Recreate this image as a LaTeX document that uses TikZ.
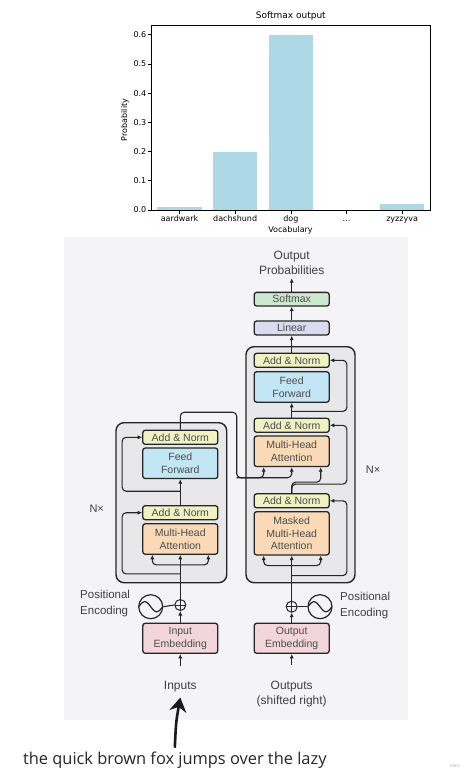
\documentclass[tikz,border=0pt]{standalone}
\usepackage{fontspec}
\setmainfont{Liberation Sans}
\newfontfamily\plotfont{DejaVu Sans}
\newfontfamily\notefont{Open Sans}
\usetikzlibrary{arrows.meta}

\definecolor{anCol}{RGB}{240,242,196}
\definecolor{ffCol}{RGB}{194,230,244}
\definecolor{mhaCol}{RGB}{250,218,182}
\definecolor{smCol}{RGB}{205,232,206}
\definecolor{linCol}{RGB}{218,218,240}
\definecolor{embCol}{RGB}{243,214,220}
\definecolor{layerCol}{RGB}{232,232,235}
\definecolor{panelCol}{RGB}{244,244,246}
\definecolor{barCol}{RGB}{173,216,230}

\newcommand{\vocdots}{...}

\tikzset{
  block/.style={draw=black!85, line width=1.3pt, rounded corners=2.5pt, minimum width=75pt,
    inner sep=0pt, align=center, text=black!70, font=\fontsize{10.5}{12.5}\selectfont},
  addnorm/.style={block, fill=anCol, minimum height=14pt},
  feedfwd/.style={block, fill=ffCol, minimum height=30.5pt},
  attn/.style={block, fill=mhaCol, minimum height=30.5pt},
  embed/.style={block, fill=embCol, minimum height=30pt},
  layer/.style={draw=black!85, line width=1.4pt, rounded corners=8pt, fill=layerCol},
  flow/.style={-{Latex[length=4.5pt,width=4.2pt]}, line width=1.1pt, draw=black!85, rounded corners=4pt},
  figtext/.style={text=black!75, align=center, inner sep=0pt, font=\fontsize{12}{15.5}\selectfont},
  plus/.style={circle, draw=black!85, line width=1pt, minimum size=11pt, inner sep=0pt,
    path picture={\draw[line width=0.9pt] (path picture bounding box.north) -- (path picture bounding box.south)
      (path picture bounding box.west) -- (path picture bounding box.east);}},
  wave/.style={circle, draw=black!85, line width=1.2pt, minimum size=24pt, inner sep=0pt,
    path picture={\draw[line width=1.2pt, shift={(path picture bounding box.center)}]
      plot[domain=-12:12, samples=40] (\x, {5*sin(\x*15)});}},
}

\begin{document}
\begin{tikzpicture}[x=1pt, y=-1pt]
\useasboundingbox (0,0) rectangle (474,780);

% Softmax bar chart
\begin{scope}[font=\plotfont\fontsize{8}{9}\selectfont]
  \foreach \i/\p/\word in {0/0.01/aardwark, 1/0.2/dachshund, 2/0.6/dog, 3/0/\vocdots, 4/0.02/zyzzyva} {
    \pgfmathsetmacro{\xc}{179.5+55.66*\i}
    \fill[barCol] (\xc-22.3,210) rectangle (\xc+22.3,{210-292.2*\p});
    \draw[line width=0.6pt] (\xc,210) -- (\xc,213.5);
    \node[anchor=north, inner sep=0pt, text height=6pt, text depth=1.6pt] at (\xc,215.5) {\word};
  }
  \foreach \v in {0,...,6} {
    \draw[line width=0.6pt] (148.2,{210-29.22*\v}) -- (151.7,{210-29.22*\v});
    \node[anchor=east, inner sep=0pt] at (146.5,{210-29.22*\v}) {0.\v};
  }
  \draw[line width=0.6pt] (151.7,25) rectangle (430,210);
  \node[font=\plotfont\fontsize{9}{10}\selectfont] (title) at (290.8,16.5) {Softmax output};
  \node[rotate=90] (ylab) at (125,120) {Probability};
  \node (xlab) at (290.5,230) {Vocabulary};
\end{scope}

% Transformer panel
\fill[panelCol] (64,237) rectangle (408,720);
\draw[layer] (116,422.7) rectangle (226.7,582.7);
\draw[layer] (246,346.7) rectangle (355,582.7);

% encoder
\node[addnorm] (encAN2) at (180.3,437.3) {Add \& Norm};
\node[feedfwd] (encFF) at (180.3,463.3) {Feed\\Forward};
\node[addnorm] (encAN1) at (180.3,512.7) {Add \& Norm};
\node[attn] (encMHA) at (180.3,539) {Multi-Head\\Attention};
\node[plus] (encPlus) at (180.3,605) {};
\node[wave] (encWave) at (150.7,606.7) {};
\node[embed] (inEmb) at (180.3,638.3) {Input\\Embedding};
\node[figtext] (inputs) at (180.3,687) {Inputs};
\node[figtext, align=left, anchor=west, font=\fontsize{11.5}{16}\selectfont] (encPE) at (80,604) {Positional\\Encoding};
\node[figtext, font=\fontsize{11}{12}\selectfont] (encN) at (96.7,508.3) {N×};

% decoder
\node[figtext] (outProb) at (291.7,263) {Output\\Probabilities};
\node[block, fill=smCol, minimum height=13.7pt] (softmax) at (291.7,299.2) {Softmax};
\node[block, fill=linCol, minimum height=14pt] (linear) at (291.7,328) {Linear};
\node[addnorm] (decAN3) at (291.7,360.3) {Add \& Norm};
\node[feedfwd] (decFF) at (291.7,387) {Feed\\Forward};
\node[addnorm] (decAN2) at (291.7,425.3) {Add \& Norm};
\node[attn] (decMHA2) at (291.7,451.3) {Multi-Head\\Attention};
\node[addnorm] (decAN1) at (291.7,500.8) {Add \& Norm};
\node[attn, minimum height=43.3pt] (decMHA1) at (291.7,533.3) {Masked\\Multi-Head\\Attention};
\node[plus] (decPlus) at (291.7,606.7) {};
\node[wave] (decWave) at (320,606.7) {};
\node[embed] (outEmb) at (291.7,638.3) {Output\\Embedding};
\node[figtext, anchor=north] (outputs) at (291.7,680.5) {Outputs\\(shifted right)};
\node[figtext, align=left, anchor=west, font=\fontsize{11.5}{16}\selectfont] (decPE) at (340,606) {Positional\\Encoding};
\node[figtext, font=\fontsize{11}{12}\selectfont] (decN) at (373,470) {N×};

% encoder connectors
\draw[flow] ([yshift=15.5pt]inputs.north) -- (inEmb.south);
\draw[flow] (inEmb.north) -- (encPlus.south);
\draw[line width=1.1pt, black!85] (encWave.east) -- (encPlus.west);
\draw[flow] (encPlus.north) -- (encMHA.south);
\draw[flow] ([yshift=-10pt]encMHA.south) -| ([xshift=-28pt]encMHA.south);
\draw[flow] ([yshift=-10pt]encMHA.south) -| ([xshift=28pt]encMHA.south);
\draw[flow] ([yshift=-19pt]encMHA.south) -| ([xshift=-20pt]encAN1.west) -- (encAN1.west);
\draw[flow] (encAN1.north) -- (encFF.south);
\draw[flow] ([yshift=-12pt]encFF.south) -| ([xshift=-20pt]encAN2.west) -- (encAN2.west);

% encoder to decoder
\coordinate (encOut) at (236.7,477.7);
\draw[flow] (encAN2.north) -- ++(0,-17.4) -| (encOut) -| ([xshift=-28pt]decMHA2.south);
\draw[flow] (encOut) -| (decMHA2.south);

% decoder connectors
\draw[flow] ([yshift=15.5pt]outputs.north) -- (outEmb.south);
\draw[flow] (outEmb.north) -- (decPlus.south);
\draw[line width=1.1pt, black!85] (decWave.west) -- (decPlus.east);
\draw[flow] (decPlus.north) -- (decMHA1.south);
\draw[flow] ([yshift=-10pt]decMHA1.south) -| ([xshift=-28pt]decMHA1.south);
\draw[flow] ([yshift=-10pt]decMHA1.south) -| ([xshift=29pt]decMHA1.south);
\draw[flow] ([yshift=-20pt]decMHA1.south) -| ([xshift=17pt]decAN1.east) -- (decAN1.east);
\draw[flow] (decAN1.north) -- ++(0,-11) -| ([xshift=29pt]decMHA2.south);
\draw[flow] (decAN1.north) -- ++(0,-9) -| ([xshift=17pt]decAN2.east) -- (decAN2.east);
\draw[flow] (decAN2.north) -- (decFF.south);
\draw[flow] ([yshift=-8.5pt]decFF.south) -| ([xshift=17pt]decAN3.east) -- (decAN3.east);
\draw[flow] (decAN3.north) -- (linear.south);
\draw[flow] (linear.north) -- (softmax.south);
\draw[flow] (softmax.north) -- ([yshift=-3pt]outProb.south);

% input sentence
\node[font=\notefont\fontsize{16.4}{18}\selectfont, text=black!85] (sentence) at (174.8,760.5) {the quick brown fox jumps over the lazy};
\draw[line width=2.6pt, black!90, -{Stealth[length=14pt,width=17pt]}]
  ([yshift=1pt]sentence.north) .. controls (176,722) .. ([yshift=-5pt]inputs.south);
\node[font=\fontsize{5}{5}\selectfont, text=black!30] (miro) at (455,766) {miro};
\end{tikzpicture}
\end{document}
